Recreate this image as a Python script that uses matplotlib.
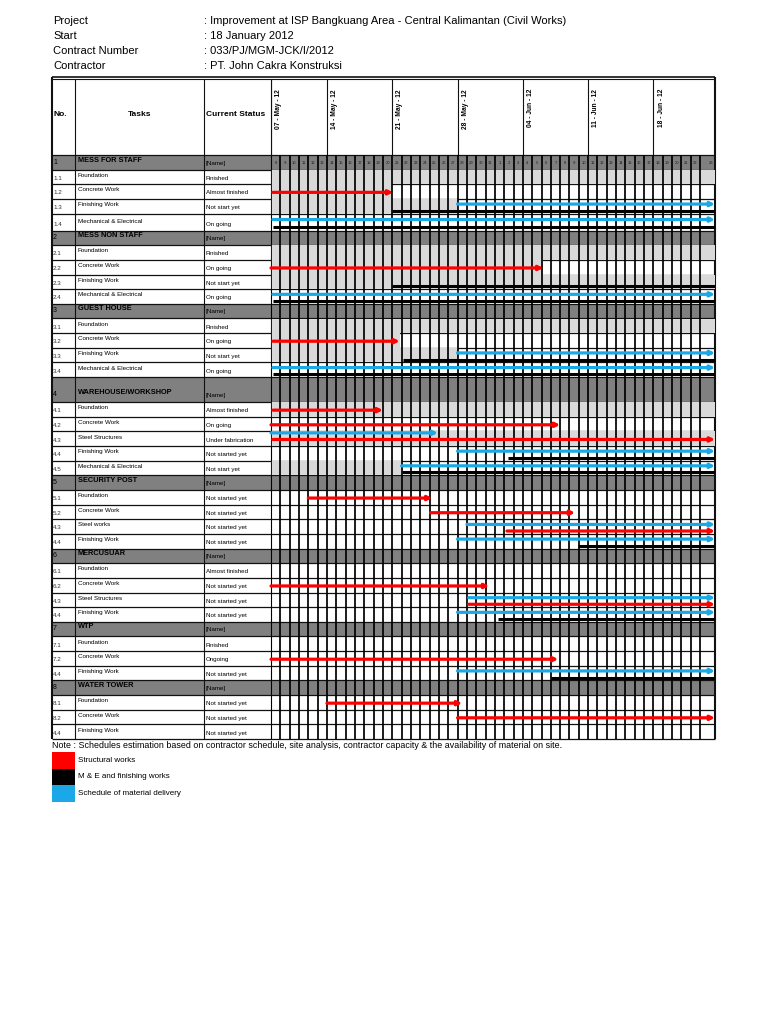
import matplotlib
matplotlib.use("Agg")
import matplotlib.pyplot as plt
from matplotlib.patches import Rectangle

# header info
info_keys = ["Project", "Start", "Contract Number", "Contractor"]
info_vals = [": Improvement at ISP Bangkuang Area - Central Kalimantan (Civil Works)",
             ": 18 January 2012",
             ": 033/PJ/MGM-JCK/I/2012",
             ": PT. John Cakra Konstruksi"]

# table rows (section rows have a status of "[Name]")
row_no = ["1", "1.1", "1.2", "1.3", "1.4",
          "2", "2.1", "2.2", "2.3", "2.4",
          "3", "3.1", "3.2", "3.3", "3.4",
          "4", "4.1", "4.2", "4.3", "4.4", "4.5",
          "5", "5.1", "5.2", "4.3", "4.4",
          "6", "6.1", "6.2", "4.3", "4.4",
          "7", "7.1", "7.2", "4.4",
          "8", "8.1", "8.2", "4.4"]
row_task = ["MESS FOR STAFF", "Foundation", "Concrete Work", "Finishing Work", "Mechanical & Electrical",
            "MESS NON STAFF", "Foundation", "Concrete Work", "Finishing Work", "Mechanical & Electrical",
            "GUEST HOUSE", "Foundation", "Concrete Work", "Finishing Work", "Mechanical & Electrical",
            "WAREHOUSE/WORKSHOP", "Foundation", "Concrete Work", "Steel Structures", "Finishing Work",
            "Mechanical & Electrical",
            "SECURITY POST", "Foundation", "Concrete Work", "Steel works", "Finishing Work",
            "MERCUSUAR", "Foundation", "Concrete Work", "Steel Structures", "Finishing Work",
            "WTP", "Foundation", "Concrete Work", "Finishing Work",
            "WATER TOWER", "Foundation", "Concrete Work", "Finishing Work"]
row_status = ["[Name]", "Finished", "Almost finished", "Not start yet", "On going",
              "[Name]", "Finished", "On going", "Not start yet", "On going",
              "[Name]", "Finished", "On going", "Not start yet", "On going",
              "[Name]", "Almost finished", "On going", "Under fabrication", "Not started yet", "Not start yet",
              "[Name]", "Not started yet", "Not started yet", "Not started yet", "Not started yet",
              "[Name]", "Almost finished", "Not started yet", "Not started yet", "Not started yet",
              "[Name]", "Finished", "Ongoing", "Not started yet",
              "[Name]", "Not started yet", "Not started yet", "Not started yet"]
# grey shading of the cells (in days from the first column), -1 = whole row
row_shade = [0, -1, 13, 20, 0,
             0, -1, 29.2, -1, 0,
             0, -1, 13.8, 20, 0,
             0, -1, 0, -1, 0, 14,
             0, 0, 0, 0, 0,
             0, 0, 0, 0, 0,
             0, 0, 0, 0,
             0, 0, 0, 0]

# day columns
day_labels = list(range(8, 32)) + list(range(1, 24))
week_labels = ["07 - May - 12", "14 - May - 12", "21 - May - 12", "28 - May - 12",
               "04 - Jun - 12", "11 - Jun - 12", "18 - Jun - 12"]
week_start = [0, 6, 13, 20, 27, 34, 41]

# bars: (row index, kind, start day, end day); S structural, M M&E/finishing, D delivery
END = 47.6
bars = [(2, "S", 0.2, 13.1),
        (3, "D", 20, END), (3, "M", 13, END),
        (4, "D", 0.2, END), (4, "M", 0.2, END),
        (7, "S", 0, 29.2),
        (8, "M", 13, END),
        (9, "D", 0.2, END), (9, "M", 0.2, END),
        (12, "S", 0.2, 13.8),
        (13, "D", 20, END), (13, "M", 14.1, END),
        (14, "D", 0.2, END), (14, "M", 0.2, END),
        (16, "S", 0.2, 12),
        (17, "S", 0, 31),
        (18, "D", 0, 17.9), (18, "S", 0.2, END),
        (19, "D", 20, END), (19, "M", 25.4, END),
        (20, "D", 14, END), (20, "M", 14, END),
        (22, "S", 4, 17.3),
        (23, "S", 17.1, 32.6),
        (24, "D", 21, END), (24, "S", 25.3, END),
        (25, "D", 20, END), (25, "M", 32.9, END),
        (28, "S", 0, 23.4),
        (29, "D", 21.2, END), (29, "S", 21.2, END),
        (30, "D", 20, END), (30, "M", 24.3, END),
        (33, "S", 0, 30.8),
        (34, "D", 20, END), (34, "M", 30, END),
        (36, "S", 6, 20.5),
        (37, "S", 20, END)]

legend_labels = ["Structural works", "M & E and finishing works", "Schedule of material delivery"]
note = ("Note : Schedules estimation based on contractor schedule, site analysis, "
        "contractor capacity & the availability of material on site.")

colors = {"S": "#ff0000", "M": "#000000", "D": "#1aa9e6"}
NARROW = ["Liberation Sans Narrow", "Liberation Sans", "DejaVu Sans"]

# layout in pixels
X0, X_TASK, X_STAT, X_G, X1 = 52, 75, 204, 271, 715
Y_HEAD, Y_TOP = 79, 155
heights = []
for i, n in enumerate(row_no):
    if n == "4" and row_task[i].startswith("WARE"):
        heights.append(25)
    elif i == 4:
        heights.append(17)
    else:
        heights.append(14.65)
bounds = [Y_TOP]
for h in heights:
    bounds.append(bounds[-1] + h)
Y_BOT = bounds[-1]

fig = plt.figure(figsize=(7.68, 10.24), dpi=100)
ax = fig.add_axes([0, 0, 1, 1])
ax.set_xlim(0, 768)
ax.set_ylim(1024, 0)
ax.axis("off")

gx = fig.add_axes([X_G / 768, 1 - Y_BOT / 1024, (X1 - X_G) / 768, (Y_BOT - Y_HEAD) / 1024])
gx.set_xlim(0, END)
gx.set_ylim(Y_BOT, Y_HEAD)
gx.axis("off")

# top info
for i in range(len(info_keys)):
    y = 21 + 15 * i
    ax.text(53, y, info_keys[i], fontsize=8, family=NARROW, va="center")
    ax.text(204, y, info_vals[i], fontsize=8, family=NARROW, va="center")

# row backgrounds
for i in range(len(row_no)):
    y0, y1 = bounds[i], bounds[i + 1]
    if row_status[i] == "[Name]":
        ax.add_patch(Rectangle((X0, y0), X1 - X0, y1 - y0, color="#808080", lw=0, zorder=0))
    else:
        s = END if row_shade[i] == -1 else row_shade[i]
        if s > 0:
            gx.add_patch(Rectangle((0, y0), s, y1 - y0, color="#d9d9d9", lw=0, zorder=0))

# grid lines
for c in range(len(day_labels)):
    gx.vlines(c, Y_TOP, Y_BOT, color="#000000", lw=1.25, zorder=1)
for w in week_start:
    gx.vlines(w, Y_HEAD, Y_TOP, color="#111111", lw=0.8, zorder=1)
ax.hlines(bounds, X0, X1, color="#111111", lw=0.9, zorder=1)
ax.hlines(Y_HEAD, X0, X1, color="#111111", lw=0.8)
ax.hlines(Y_HEAD - 2.5, X0, X1, color="#111111", lw=1.2)
for x in [X_TASK, X_STAT, X_G]:
    ax.vlines(x, Y_HEAD, Y_BOT, color="#111111", lw=0.8)
ax.vlines([X0, X1], Y_HEAD - 2.5, Y_BOT, color="#111111", lw=1.5)

# header
ax.text(53, 115, "No.", fontsize=6, weight="bold", family=NARROW, va="center")
ax.text((X_TASK + X_STAT) / 2, 115, "Tasks", fontsize=6, weight="bold", family=NARROW,
        ha="center", va="center")
ax.text(206, 115, "Current Status", fontsize=6, weight="bold", family=NARROW, va="center")
for w, lab in zip(week_start, week_labels):
    gx.text(w + 0.45, 89, lab, rotation=90, fontsize=4.8, weight="bold", family=NARROW,
            ha="left", va="top")

# day numbers inside first section row
for c, d in enumerate(day_labels):
    xc = c + 0.5 if c < len(day_labels) - 1 else (c + END) / 2 + 0.4
    gx.text(xc, (bounds[0] + bounds[1]) / 2 + 0.5, str(d), fontsize=3.0, family=NARROW,
            ha="center", va="center", color="#222222")

# row texts
for i in range(len(row_no)):
    y1 = bounds[i + 1]
    if row_status[i] == "[Name]":
        ax.text(53, y1 - 7.5, row_no[i], fontsize=5, family=NARROW, va="center")
        ax.text(78, y1 - 9.5, row_task[i], fontsize=5.3, weight="bold", family=NARROW, va="center")
        ax.text(206, y1 - 6.5, row_status[i], fontsize=4.5, family=NARROW, va="center")
    else:
        ax.text(53, y1 - 6, row_no[i], fontsize=4.5, family=NARROW, va="center", color="#333333")
        ax.text(78, y1 - 9, row_task[i], fontsize=4.5, family=NARROW, va="center")
        ax.text(206, y1 - 6, row_status[i], fontsize=4.5, family=NARROW, va="center")

# bars
lane_override = {18: [0.1, 0.55]}
for i in range(len(row_no)):
    rb = [b for b in bars if b[0] == i]
    if not rb:
        continue
    y0, y1 = bounds[i], bounds[i + 1]
    if i in lane_override:
        lanes = lane_override[i]
    elif len(rb) == 1:
        lanes = [0.78] if rb[0][1] == "M" else [0.55]
    else:
        lanes = [0.35, 0.8]
    for (r, kind, s, e), f in zip(rb, lanes):
        y = y0 + f * (y1 - y0)
        if kind == "M":
            gx.plot([s, e], [y, y], color=colors[kind], lw=2.2, solid_capstyle="butt", zorder=3)
        else:
            gx.annotate("", xy=(e, y), xytext=(s, y), zorder=3,
                        arrowprops=dict(arrowstyle="-|>", color=colors[kind], lw=2.3,
                                        mutation_scale=6, shrinkA=0, shrinkB=0))

# note and legend
ax.text(X0, 745, note, fontsize=6.4, family=NARROW, va="center")
for k, (kind, lab) in enumerate(zip(["S", "M", "D"], legend_labels)):
    y0 = 752 + 16.7 * k
    ax.add_patch(Rectangle((X0, y0), X_TASK - X0, 16.7, color=colors[kind], lw=0))
    ax.text(78, y0 + 8, lab, fontsize=5.8, family=NARROW, va="center")

fig.savefig("out.png", dpi=100)
